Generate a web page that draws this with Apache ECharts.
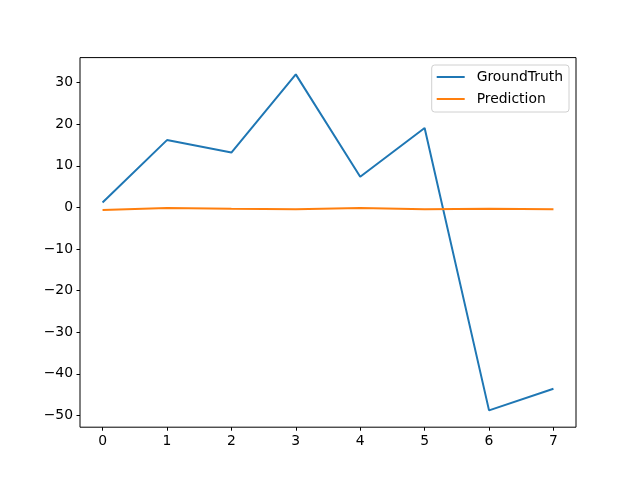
<!DOCTYPE html>
<html>
<head>
<meta charset="utf-8">
<script src="https://cdn.jsdelivr.net/npm/echarts@6/dist/echarts.min.js"></script>
<style>html,body{margin:0;padding:0;background:#fff}#c{width:640px;height:480px}</style>
</head>
<body>
<div id="c"></div>
<script>
const xValues = [0, 1, 2, 3, 4, 5, 6, 7];
const groundTruth = [1.2, 16.2, 13.2, 32.0, 7.4, 19.1, -48.8, -43.6];
const prediction = [-0.6, -0.1, -0.3, -0.4, -0.1, -0.4, -0.3, -0.4];
const xTicks = [0, 1, 2, 3, 4, 5, 6, 7];
const yTicks = [-50, -40, -30, -20, -10, 0, 10, 20, 30];

const font = 'DejaVu Sans';
const chart = echarts.init(document.getElementById('c'), null, {renderer: 'canvas'});
chart.setOption({
  animation: false,
  backgroundColor: '#fff',
  grid: {left: 80, right: 64, top: 57.6, bottom: 52.8, show: true, borderColor: '#000', borderWidth: 1, containLabel: false},
  legend: {
    orient: 'vertical', right: 71, top: 65,
    backgroundColor: '#fff', borderColor: '#d0d0d0', borderWidth: 1, borderRadius: 3,
    padding: [5, 6, 6, 5], itemGap: 8, itemWidth: 28, itemHeight: 2,
    icon: 'rect',
    textStyle: {fontFamily: font, fontSize: 13.9, color: '#000', padding: [0, 0, 0, 7]},
    data: ['GroundTruth', 'Prediction']
  },
  xAxis: {
    type: 'value', min: -0.35, max: 7.35,
    splitLine: {show: false},
    axisLine: {show: false, onZero: false},
    axisTick: {show: true, customValues: xTicks, length: 3.5, lineStyle: {color: '#000'}},
    axisLabel: {customValues: xTicks, fontFamily: font, fontSize: 13.9, color: '#000', margin: 7}
  },
  yAxis: {
    type: 'value', min: -52.84, max: 36.04,
    splitLine: {show: false},
    axisLine: {show: false, onZero: false},
    axisTick: {show: true, customValues: yTicks, length: 3.5, lineStyle: {color: '#000'}},
    axisLabel: {customValues: yTicks, fontFamily: font, fontSize: 13.9, color: '#000', margin: 7,
      formatter: v => String(v).replace('-', '\u2212')}
  },
  series: [
    {name: 'GroundTruth', type: 'line', data: xValues.map((x, i) => [x, groundTruth[i]]),
     showSymbol: false, symbol: 'none', lineStyle: {width: 2, color: '#1f77b4'}, itemStyle: {color: '#1f77b4'}},
    {name: 'Prediction', type: 'line', data: xValues.map((x, i) => [x, prediction[i]]),
     showSymbol: false, symbol: 'none', lineStyle: {width: 2, color: '#ff7f0e'}, itemStyle: {color: '#ff7f0e'}}
  ]
});
</script>
</body>
</html>
